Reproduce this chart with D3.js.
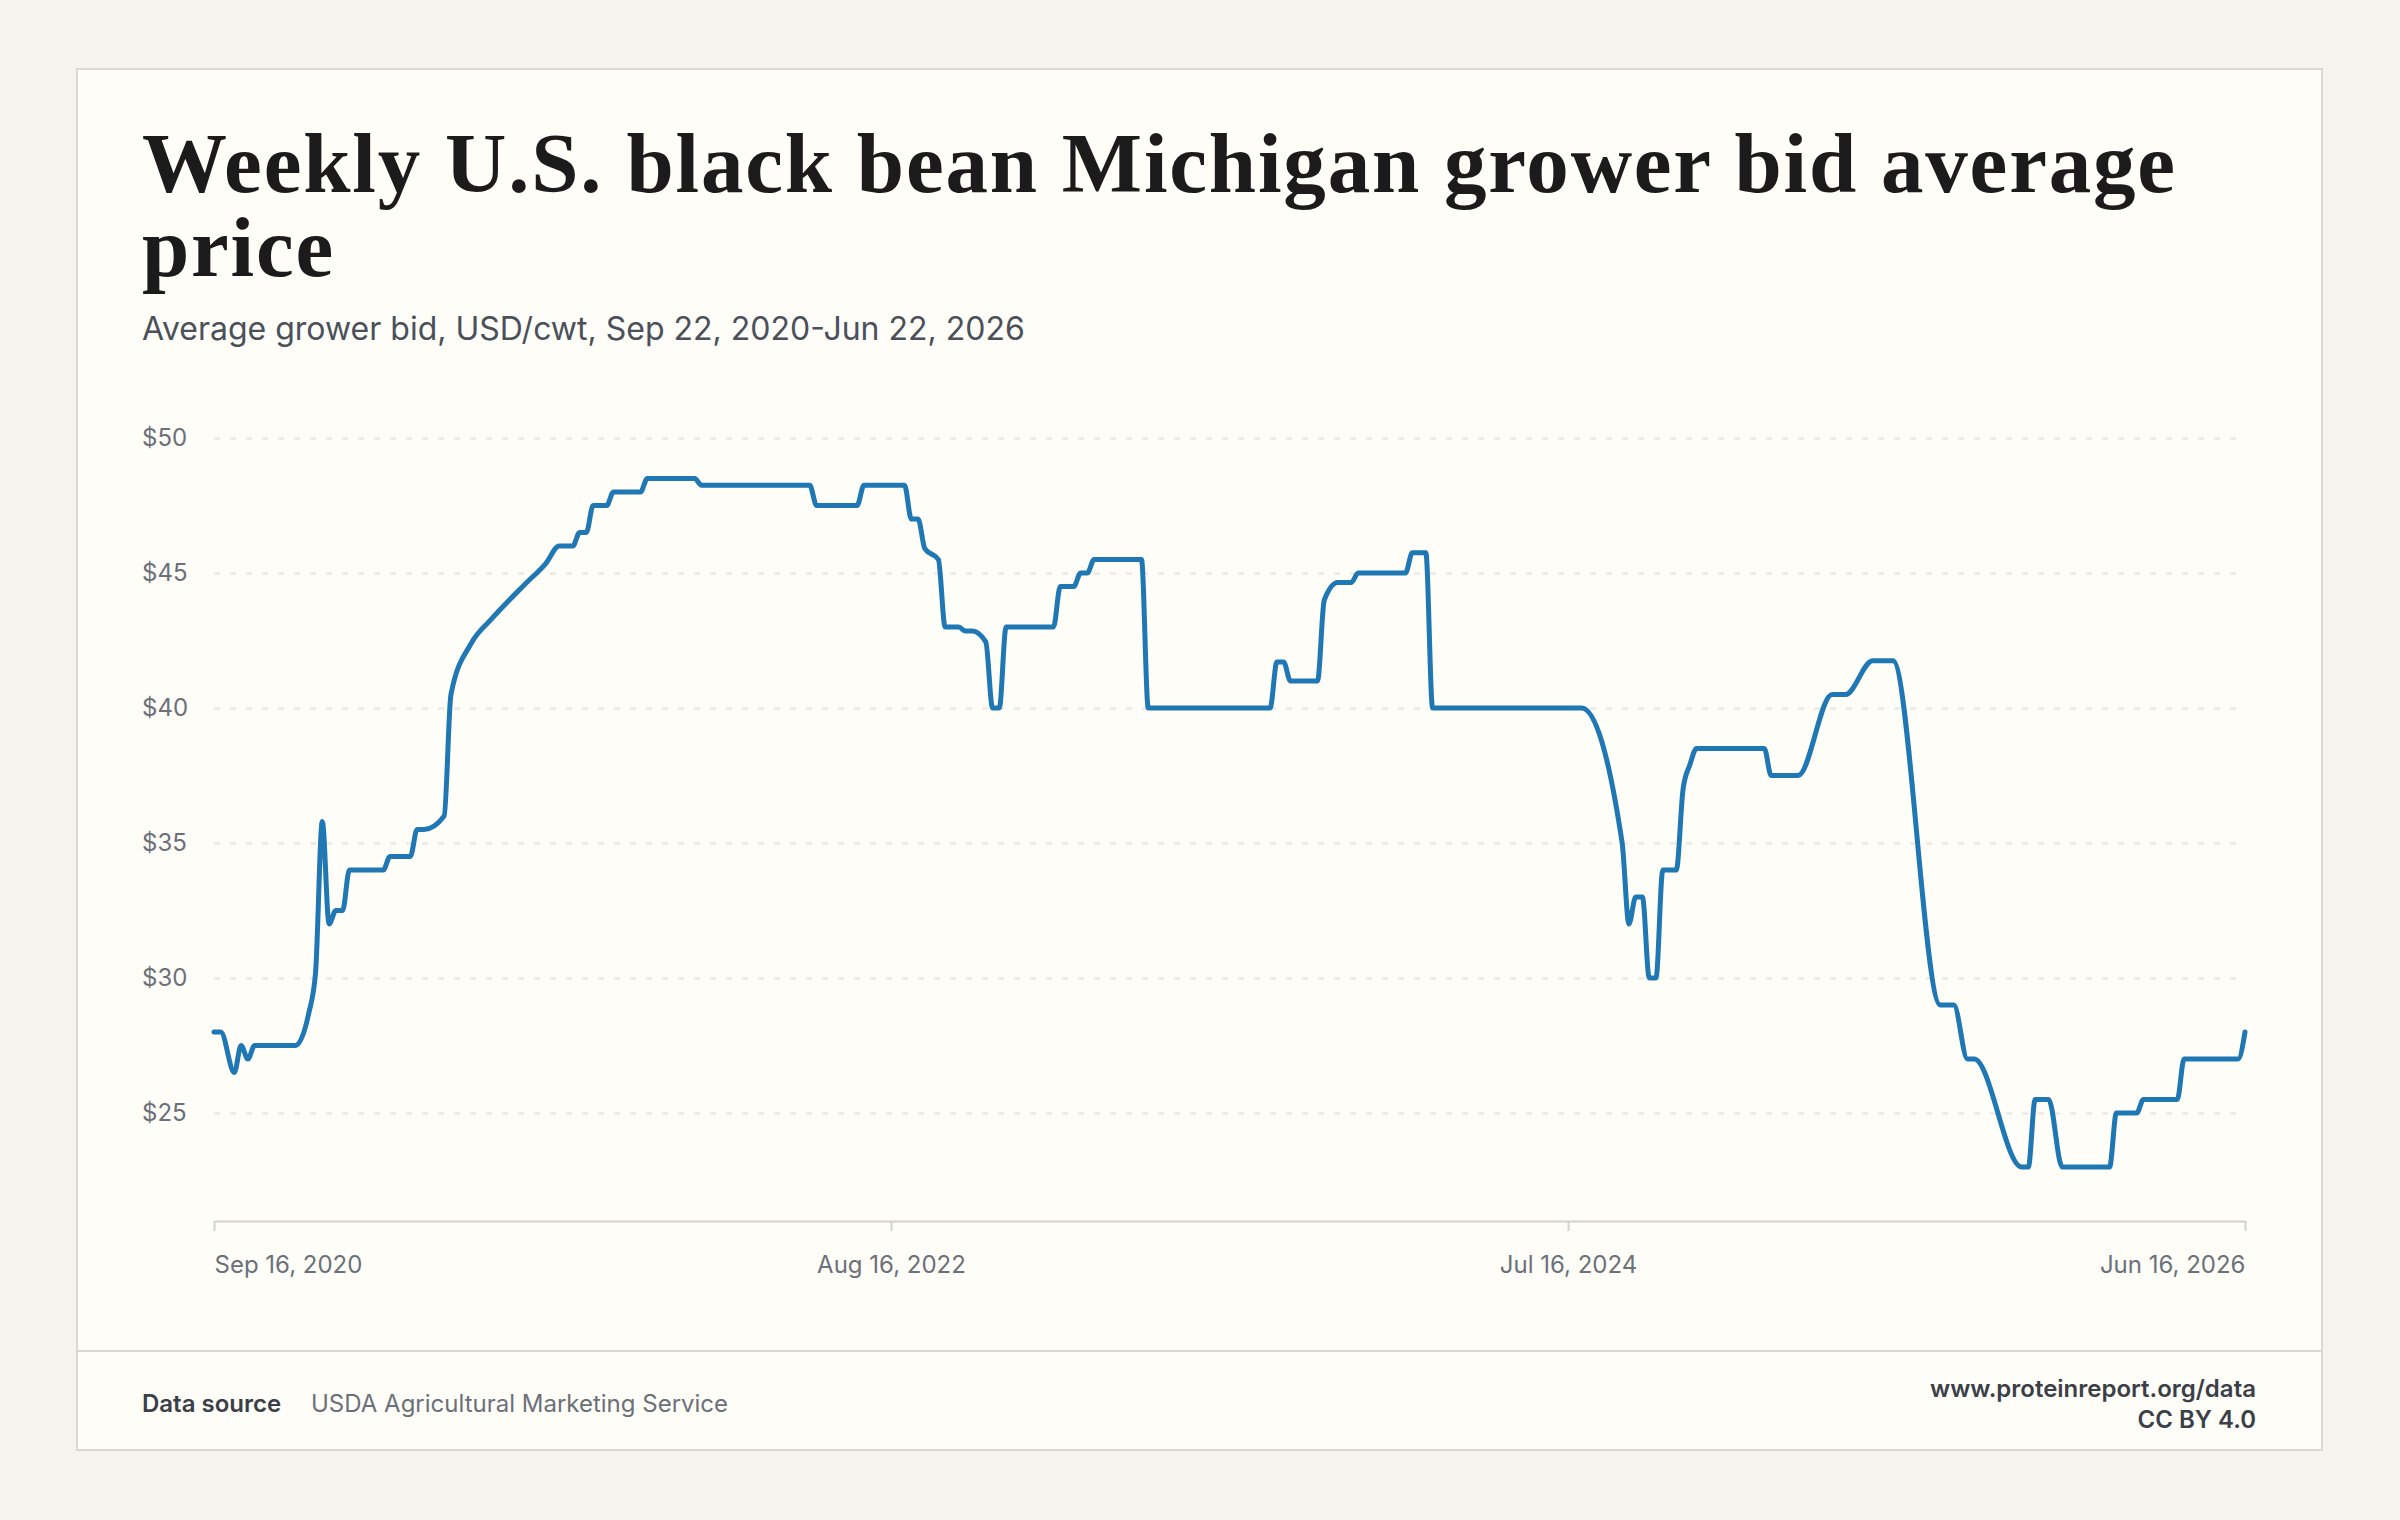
<!DOCTYPE html>
<html>
<head>
<meta charset="utf-8">
<script src="https://cdn.jsdelivr.net/npm/d3@7"></script>
<style>
  body { margin: 0; background: #f5f3ee; }
  svg { display: block; }
</style>
</head>
<body>
<svg></svg>
<script>
// weekly grower bids, weeks counted from the first bid (Sep 22, 2020)
const firstBid = new Date(2020, 8, 22)
const weekNo = [0, 1, 3, 4, 5, 6, 12, 14, 15, 16,
  17, 18, 19, 20, 25, 26, 29, 30, 31, 34,
  35, 38, 41, 46, 49, 51, 53, 54, 55, 56,
  58, 59, 63, 64, 71, 72, 88, 89, 95, 96,
  102, 103, 104, 105, 107, 108, 110, 111, 112, 114,
  115, 116, 117, 124, 125, 127, 128, 129, 130, 137,
  138, 156, 157, 158, 159, 163, 164, 166, 168, 169,
  176, 177, 179, 180, 202, 208, 209, 210, 211, 212,
  213, 214, 216, 217, 218, 219, 229, 230, 234, 239,
  241, 245, 248, 255, 257, 259, 260, 267, 268, 269,
  271, 273, 280, 281, 284, 285, 290, 291, 299, 300]
const bidPrice = [28, 28, 26.5, 27.5, 27, 27.5, 27.5, 28.7, 30.2, 35.8,
  32, 32.5, 32.5, 34, 34, 34.5, 34.5, 35.5, 35.5, 36,
  40.5, 42.4, 43.3, 44.6, 45.35, 46, 46, 46.5, 46.5, 47.5,
  47.5, 48, 48, 48.5, 48.5, 48.25, 48.25, 47.5, 47.5, 48.25,
  48.25, 47, 47, 45.9, 45.5, 43, 43, 42.85, 42.85, 42.45,
  40, 40, 43, 43, 44.5, 44.5, 45, 45, 45.5, 45.5,
  40, 40, 41.7, 41.7, 41, 41, 44, 44.65, 44.65, 45,
  45, 45.75, 45.75, 40, 40, 35, 32, 33, 33, 30,
  30, 34, 34, 37, 37.9, 38.5, 38.5, 37.5, 37.5, 40.5,
  40.5, 41.75, 41.75, 29, 29, 27, 27, 23, 23, 25.5,
  25.5, 23, 23, 25, 25, 25.5, 25.5, 27, 27, 28]
const yTicks = [25, 30, 35, 40, 45, 50]
const xTickLabels = ['Sep 16, 2020', 'Aug 16, 2022', 'Jul 16, 2024', 'Jun 16, 2026']

let width = 2400
let height = 1520
let plot = { left: 214, right: 2245, top: 438, bottom: 1221 }

let data = weekNo.map((w, i) => ({ date: d3.timeDay.offset(firstBid, w * 7), price: bidPrice[i] }))

let svg = d3.select('svg')
            .attr('width', width)
            .attr('height', height)
            .style('font-family', 'Inter, "Noto Sans", sans-serif')

// card
svg.append('rect')
    .attr('x', 77).attr('y', 69)
    .attr('width', 2245).attr('height', 1381)
    .attr('fill', '#fefdf8')
    .attr('stroke', '#dbd8d0')
    .attr('stroke-width', 2)

svg.append('line')
    .attr('x1', 77).attr('x2', 2322)
    .attr('y1', 1351).attr('y2', 1351)
    .attr('stroke', '#dbd8d0')
    .attr('stroke-width', 2)

let titleStyle = t => t
    .attr('x', 142)
    .attr('font-family', '"Liberation Serif", serif')
    .attr('font-weight', 700)
    .attr('font-size', 85)
    .attr('letter-spacing', 1.8)
    .attr('fill', '#1b1b1b')

svg.append('text').call(titleStyle).attr('y', 192)
    .text('Weekly U.S. black bean Michigan grower bid average')
svg.append('text').call(titleStyle).attr('y', 276)
    .text('price')

svg.append('text')
    .attr('x', 142).attr('y', 340)
    .attr('font-size', 32)
    .attr('fill', '#4b505b')
    .text('Average grower bid, USD/cwt, Sep 22, 2020-Jun 22, 2026')

let x = d3.scaleTime()
          .domain(d3.extent(data, d => d.date))
          .range([plot.left, plot.right])

let y = d3.scaleLinear()
          .domain([21, 50])
          .range([plot.bottom, plot.top])

let yAxis = svg.append('g')
    .attr('transform', `translate(${plot.left},0)`)
    .call(d3.axisLeft(y)
        .tickValues(yTicks)
        .tickSize(-(plot.right - plot.left))
        .tickFormat(d => `$${d}`))
yAxis.select('.domain').remove()
yAxis.selectAll('.tick line')
    .attr('stroke', '#e9e6df')
    .attr('stroke-width', 2)
    .attr('stroke-dasharray', '6,10')
yAxis.selectAll('.tick text')
    .attr('x', 142 - plot.left)
    .attr('text-anchor', 'start')
    .attr('font-size', 24)
    .attr('font-family', 'Inter, sans-serif')
    .attr('fill', '#6b7079')

let [d0, d1] = x.domain()
let xTicks = xTickLabels.map((t, i) => new Date(+d0 + i * (d1 - d0) / (xTickLabels.length - 1)))

let xAxis = svg.append('g')
    .attr('transform', `translate(0,${plot.bottom})`)
    .call(d3.axisBottom(x)
        .tickValues(xTicks)
        .tickSize(10)
        .tickSizeOuter(0)
        .tickFormat((d, i) => xTickLabels[i]))
xAxis.select('.domain').attr('stroke', '#d4d1c9').attr('stroke-width', 2)
xAxis.selectAll('.tick line').attr('stroke', '#d4d1c9').attr('stroke-width', 2)
xAxis.selectAll('.tick text')
    .attr('y', 35)
    .attr('font-size', 24)
    .attr('font-family', 'Inter, sans-serif')
    .attr('fill', '#6b7079')
    .attr('text-anchor', (d, i) => i == 0 ? 'start' : i == xTickLabels.length - 1 ? 'end' : 'middle')

let line = d3.line()
    .x(d => x(d.date))
    .y(d => y(d.price))
    .curve(d3.curveMonotoneX)

svg.append('path')
    .datum(data)
    .attr('d', line)
    .attr('fill', 'none')
    .attr('stroke', '#1f77b4')
    .attr('stroke-width', 5)
    .attr('stroke-linejoin', 'round')
    .attr('stroke-linecap', 'round')

// footer
svg.append('text')
    .attr('x', 142).attr('y', 1412)
    .attr('font-size', 24).attr('font-weight', 600)
    .attr('fill', '#3b3f48')
    .text('Data source')

svg.append('text')
    .attr('x', 311).attr('y', 1412)
    .attr('font-size', 24)
    .attr('fill', '#6b7079')
    .text('USDA Agricultural Marketing Service')

svg.append('text')
    .attr('x', 2256).attr('y', 1397)
    .attr('text-anchor', 'end')
    .attr('font-size', 24).attr('font-weight', 600)
    .attr('fill', '#3b3f48')
    .text('www.proteinreport.org/data')

svg.append('text')
    .attr('x', 2256).attr('y', 1428)
    .attr('text-anchor', 'end')
    .attr('font-size', 24).attr('font-weight', 600)
    .attr('fill', '#3b3f48')
    .text('CC BY 4.0')
</script>
</body>
</html>
